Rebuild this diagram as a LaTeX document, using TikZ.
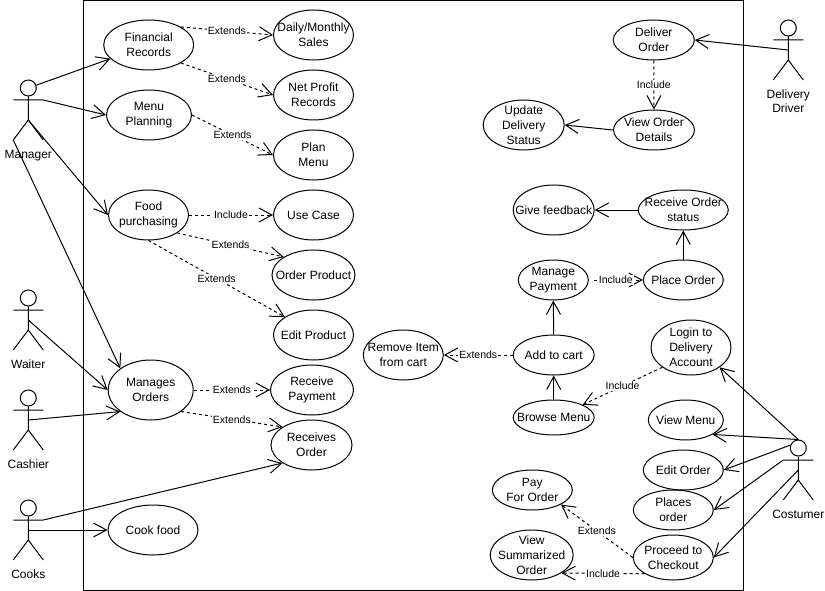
\documentclass[tikz,border=0pt]{standalone}
\usepackage{fontspec}
\setmainfont{Liberation Sans}
\usetikzlibrary{arrows.meta,shapes.geometric}

% stick figure: name, x, top, label
\newcommand{\actor}[4]{
        \node[actorhead] (#1-head) at (#2,#3+8) {};
        \coordinate (#1-arml) at (#2-15,#3+20);
        \coordinate (#1-armr) at (#2+15,#3+20);
        \coordinate (#1-mid)  at (#2,#3+30);
        \coordinate (#1-hip)  at (#2,#3+40);
        \coordinate (#1-legl) at (#2-15,#3+60);
        \coordinate (#1-legr) at (#2+15,#3+60);
        \draw[-] (#1-head) -- (#1-hip) (#1-arml) -- (#1-armr)
                 (#1-legl) -- (#1-hip) -- (#1-legr);
        \node[actorname] (#1-name) at (#2,#3+69.5) {#4};
}

\begin{document}
\begin{tikzpicture}[x=1pt,y=-1pt,line width=1pt,->,>={Straight Barb[length=13pt,width=14pt]}]
        \tikzstyle{usecase}=[ellipse,draw=black,fill=none,text=black,align=center,inner xsep=-20pt,inner ysep=-20pt,
                             minimum width=80pt,minimum height=50pt,font=\fontsize{12}{15}\selectfont]
        \tikzstyle{actorhead}=[circle,draw=black,inner sep=0pt,minimum size=16pt]
        \tikzstyle{actorname}=[anchor=north,align=center,inner sep=0pt,font=\fontsize{12}{14}\selectfont]
        \tikzstyle{dep}=[dash pattern=on 3pt off 3pt,every node/.style={fill=white,inner sep=1pt,font=\fontsize{10.5}{12}\selectfont}]

        \useasboundingbox (0,0) rectangle (825,591);

        \node[draw=black,inner sep=0pt,outer sep=0pt,anchor=north west,minimum width=660pt,minimum height=589.5pt] (system) at (83.5,0.5) {};

        % left side
        \node[usecase,minimum width=90pt] (fin)   at (148.7,45)  {Financial\\Records};
        \node[usecase]                    (sales) at (313.5,35)  {Daily/Monthly\\Sales};
        \node[usecase]                    (net)   at (313.5,95)  {Net Profit\\Records};
        \node[usecase,minimum width=85pt] (menu)  at (149,115)   {Menu\\Planning};
        \node[usecase]                    (plan)  at (313.5,155) {Plan\\Menu};
        \node[usecase]                    (food)  at (148.5,215) {Food\\purchasing};
        \node[usecase]                    (use)   at (313.5,215) {Use Case};
        \node[usecase,minimum width=83pt] (order) at (313.5,275) {Order Product};
        \node[usecase]                    (edit)  at (313.5,335) {Edit Product};
        \node[usecase,minimum width=85pt,minimum height=60pt] (man) at (150.7,390) {Manages\\Orders};
        \node[usecase,minimum width=83pt] (recv)  at (312,390)   {Receive\\Payment};
        \node[usecase,minimum width=81pt] (rord)  at (311.5,445) {Receives\\Order};
        \node[usecase,minimum width=90pt] (cook)  at (153,530)   {Cook food};

        % right side
        \node[usecase,minimum width=81pt,minimum height=40pt] (deliver) at (653.8,40)  {Deliver\\Order};
        \node[usecase,minimum width=81pt,minimum height=40pt] (details) at (654,130)   {View Order\\Details};
        \node[usecase,minimum width=81pt] (update) at (523.7,125) {Update\\Delivery\\Status};
        \node[usecase,minimum width=81pt] (give)   at (553.7,210) {Give feedback};
        \node[usecase,minimum width=90pt,minimum height=40pt] (status) at (683.3,210) {Receive Order\\status};
        \node[usecase,minimum height=40pt] (place)  at (683.3,280) {Place Order};
        \node[usecase,minimum width=70pt,minimum height=40pt] (pay) at (553.3,280) {Manage\\Payment};
        \node[usecase,minimum width=81pt,minimum height=40pt] (cart) at (553.7,355) {Add to cart};
        \node[usecase,minimum width=81pt,minimum height=35pt] (browse) at (553.7,417.5) {Browse Menu};
        \node[usecase] (remove) at (403.3,355) {Remove Item\\from cart};
        \node[usecase,minimum height=55pt] (login) at (691,347.5) {Login to\\Delivery\\Account};
        \node[usecase,minimum width=75pt,minimum height=40pt] (view) at (685.8,420) {View Menu};
        \node[usecase,minimum height=40pt] (eord)  at (683.3,470) {Edit Order};
        \node[usecase,minimum height=40pt] (porder) at (673.3,510) {Places\\order};
        \node[usecase,minimum height=45pt] (check) at (673.3,557.5) {Proceed to\\Checkout};
        \node[usecase,minimum height=40pt] (payfor) at (532.3,490) {Pay\\For Order};
        \node[usecase,minimum width=83pt] (summary) at (531.7,555) {View\\Summarized\\Order};

        \actor{mgr}{28.3}{80}{Manager}
        \actor{wtr}{28.3}{290}{Waiter}
        \actor{csh}{28.3}{390}{Cashier}
        \actor{cks}{28.3}{500}{Cooks}
        \actor{drv}{788.3}{20}{Delivery\\Driver}
        \actor{cst}{798.3}{440}{Costumer}

        \path (mgr-head) edge (fin)
              (mgr-armr) edge (menu.west)
              (mgr-hip)  edge (food.west)
              (mgr-legl) edge (man.north west)
              (wtr-mid)  edge (man.west)
              (csh-mid)  edge (man.south west)
              (cks-armr) edge (rord.south west)
              (cks-mid)  edge (cook.west)
              (drv-mid)  edge (deliver.east)
              (details.west) edge (update.east)
              (status.west)  edge (give.east)
              (place.north)  edge (status.south)
              (cart.north)   edge (pay.south)
              (browse.north) edge (cart.south)
              (cst-head.north) edge (login.south east)
                               edge (view.south east)
              (cst-head.160) edge (eord.east)
              (cst-arml) edge (porder.east)
              (cst-mid)  edge (check.east)
        ;

        \path[dep] (fin.north east) edge node {Extends} (sales.west)
                   (fin.south east) edge node {Extends} (net.west)
                   (menu.east)      edge node {Extends} (plan.west)
                   (food.east)      edge node {Include} (use.west)
                   (food.south east) edge node {Extends} (order.north west)
                   (food.south)     edge node {Extends} (edit.north west)
                   (man.east)       edge node {Extends} (recv.west)
                   (man.south east) edge node {Extends} (rord.north west)
                   (deliver.south)  edge node {Include} (details.north)
                   (pay.east)       edge [shorten <=5pt] node {Include} (place.west)
                   (cart.west)      edge node {Extends} (remove.east)
                   (login.south west) edge node {Include} (browse.north east)
                   (check.west)     edge node {Extends} (payfor.south east)
                   (check.south west) edge node {Include} (summary.south east)
        ;
\end{tikzpicture}
\end{document}
